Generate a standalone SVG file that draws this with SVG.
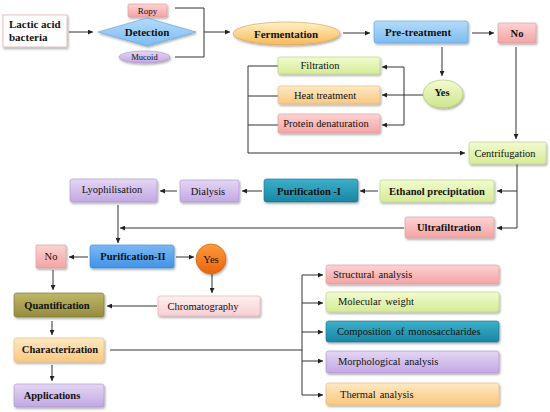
<svg xmlns="http://www.w3.org/2000/svg" width="550" height="412" viewBox="0 0 550 412">
<style>
text{font-family:"Liberation Serif","Times New Roman",serif;font-size:10.5px;fill:#111;text-anchor:middle}
.b{font-weight:bold}
.l{text-anchor:start}
.box{filter:url(#sh)}
.conn path{fill:none;stroke:#333;stroke-width:1}
.pink{fill:url(#gPink);stroke:#d79a9a;stroke-width:0.6}
.green{fill:url(#gGreen);stroke:#b9cf84;stroke-width:0.6}
.orange{fill:url(#gOrange);stroke:#e3b676;stroke-width:0.6}
.purple{fill:url(#gPurple);stroke:#a892c9;stroke-width:0.6}
.teal{fill:url(#gTeal);stroke:#17718a;stroke-width:0.6}
.blue{fill:url(#gBlue);stroke:#3d86d0;stroke-width:0.6}
.lblue{fill:url(#gLBlue);stroke:#5a9fd8;stroke-width:0.6}
.olive{fill:url(#gOlive);stroke:#7b7330;stroke-width:0.6}
.lpink{fill:url(#gLPink);stroke:#e0a7ae;stroke-width:0.6}
.ferm{fill:url(#gFerm);stroke:#d9a04a;stroke-width:0.6}
.oyes{fill:url(#gOYes);stroke:#c85a08;stroke-width:0.6}
</style>
<defs>
<filter id="sh" x="-10%" y="-20%" width="125%" height="150%">
<feDropShadow dx="1" dy="1.5" stdDeviation="0.9" flood-color="#000" flood-opacity="0.35"/>
</filter>
<marker id="ar" viewBox="0 0 6 6" refX="6" refY="3" markerWidth="5" markerHeight="5" markerUnits="userSpaceOnUse" orient="auto">
<path d="M0,0 L6,3 L0,6 z" fill="#222"/>
</marker>
<linearGradient id="gPink" x1="0" y1="0" x2="0" y2="1"><stop offset="0" stop-color="#fcd3d3"/><stop offset="1" stop-color="#f5a3a3"/></linearGradient>
<linearGradient id="gGreen" x1="0" y1="0" x2="0" y2="1"><stop offset="0" stop-color="#f1fbcf"/><stop offset="1" stop-color="#d6eb96"/></linearGradient>
<linearGradient id="gOrange" x1="0" y1="0" x2="0" y2="1"><stop offset="0" stop-color="#fee9c4"/><stop offset="1" stop-color="#f9c880"/></linearGradient>
<linearGradient id="gPurple" x1="0" y1="0" x2="0" y2="1"><stop offset="0" stop-color="#e4d6f4"/><stop offset="1" stop-color="#c2a8e3"/></linearGradient>
<linearGradient id="gTeal" x1="0" y1="0" x2="0" y2="1"><stop offset="0" stop-color="#3bb0cb"/><stop offset="1" stop-color="#1a86a2"/></linearGradient>
<linearGradient id="gBlue" x1="0" y1="0" x2="0" y2="1"><stop offset="0" stop-color="#7ab9f4"/><stop offset="1" stop-color="#3f93e8"/></linearGradient>
<linearGradient id="gLBlue" x1="0" y1="0" x2="0" y2="1"><stop offset="0" stop-color="#b4dbfa"/><stop offset="1" stop-color="#7ebcf2"/></linearGradient>
<linearGradient id="gOlive" x1="0" y1="0" x2="0" y2="1"><stop offset="0" stop-color="#c0b667"/><stop offset="1" stop-color="#958c3c"/></linearGradient>
<linearGradient id="gLPink" x1="0" y1="0" x2="0" y2="1"><stop offset="0" stop-color="#fff0f1"/><stop offset="1" stop-color="#f9cdd2"/></linearGradient>
<linearGradient id="gFerm" x1="0" y1="0" x2="0" y2="1"><stop offset="0" stop-color="#fff0c6"/><stop offset="1" stop-color="#f7b957"/></linearGradient>
<linearGradient id="gOYes" x1="0" y1="0" x2="0" y2="1"><stop offset="0" stop-color="#ff9a3a"/><stop offset="1" stop-color="#e9640c"/></linearGradient>
<linearGradient id="gYesG" x1="0" y1="0" x2="0" y2="1"><stop offset="0" stop-color="#f3fbd2"/><stop offset="1" stop-color="#cfe58a"/></linearGradient>
</defs>

<g class="conn">
<path d="M69,32 H93" marker-end="url(#ar)"/>
<path d="M175,8 H204 V57 H175"/>
<path d="M204,32 H230" marker-end="url(#ar)"/>
<path d="M343,33 H370" marker-end="url(#ar)"/>
<path d="M472,33 H494" marker-end="url(#ar)"/>
<path d="M442,47 V76" marker-end="url(#ar)"/>
<path d="M423,95 H382" marker-end="url(#ar)"/>
<path d="M404,67 V125"/>
<path d="M404,67 H382" marker-end="url(#ar)"/>
<path d="M404,125 H382" marker-end="url(#ar)"/>
<path d="M278,66 H248 V153 H465" marker-end="url(#ar)"/>
<path d="M278,96 H248"/>
<path d="M278,125 H248"/>
<path d="M516,47 V139" marker-end="url(#ar)"/>
<path d="M517,164 V228 H497" marker-end="url(#ar)"/>
<path d="M517,191 H497" marker-end="url(#ar)"/>
<path d="M378,191 H360" marker-end="url(#ar)"/>
<path d="M262,191 H242" marker-end="url(#ar)"/>
<path d="M177,191 H160" marker-end="url(#ar)"/>
<path d="M118,205 V243" marker-end="url(#ar)"/>
<path d="M404,228 H120" marker-end="url(#ar)"/>
<path d="M88,257 H69" marker-end="url(#ar)"/>
<path d="M176,257 H194" marker-end="url(#ar)"/>
<path d="M212,274 V293" marker-end="url(#ar)"/>
<path d="M53,270 V290" marker-end="url(#ar)"/>
<path d="M157,306 H107" marker-end="url(#ar)"/>
<path d="M52,321 V335" marker-end="url(#ar)"/>
<path d="M110,350 H302"/>
<path d="M302,275 V395"/>
<path d="M302,275 H323" marker-end="url(#ar)"/>
<path d="M302,303 H323" marker-end="url(#ar)"/>
<path d="M302,332 H323" marker-end="url(#ar)"/>
<path d="M302,361 H323" marker-end="url(#ar)"/>
<path d="M302,395 H323" marker-end="url(#ar)"/>
<path d="M52,365 V381" marker-end="url(#ar)"/>
</g>

<g id="lab"><rect class="box" x="3" y="15" width="64" height="32" fill="#fff" stroke="#e0b0b0" stroke-width="0.8"/>
<text class="b l" x="9" y="28" style="font-size:11px">Lactic acid</text>
<text class="b l" x="9" y="41" style="font-size:11px">bacteria</text></g>

<g id="ropy"><rect class="box pink" x="128" y="4" width="39" height="13" rx="1.5"/><text x="147.5" y="13.5" style="font-size:9px">Ropy</text></g>
<g id="detection"><polygon class="box lblue" points="98,32 147,18 196,32 147,46"/><text class="b" x="147" y="36" style="font-size:11px">Detection</text></g>
<g id="mucoid"><ellipse class="box purple" cx="144.5" cy="57" rx="25.5" ry="6"/><text x="144.5" y="60" style="font-size:8.5px">Mucoid</text></g>

<g id="fermentation"><ellipse class="box ferm" cx="286.5" cy="33.5" rx="53.5" ry="11.5"/><text class="b" x="286" y="37.5" style="font-size:11px">Fermentation</text></g>
<g id="pretreatment"><rect class="box lblue" x="374" y="21" width="94" height="22" rx="2.5"/><text class="b" x="418" y="36" style="font-size:11px">Pre-treatment</text></g>
<g id="no1"><rect class="box pink" x="498" y="23" width="38" height="20" rx="1"/><text class="b" x="517" y="37" style="font-size:10.5px">No</text></g>

<g id="filtration"><rect class="box green" x="278" y="57" width="102" height="17" rx="2"/><text x="320" y="69">Filtration</text></g>
<g id="heat"><rect class="box orange" x="278" y="86" width="102" height="18" rx="2"/><text x="325" y="98.5">Heat treatment</text></g>
<g id="protein"><rect class="box pink" x="278" y="114" width="102" height="19" rx="2"/><text x="326" y="127">Protein denaturation</text></g>
<g id="yes1"><ellipse class="box" cx="443" cy="94" rx="20" ry="14" fill="url(#gYesG)" stroke="#a8c060" stroke-width="0.6"/><text class="b" x="442" y="96">Yes</text></g>

<g id="centrifugation"><rect class="box green" x="469" y="142" width="77" height="22" rx="2"/><text x="505" y="157">Centrifugation</text></g>
<g id="ethanol"><rect class="box green" x="380" y="180" width="114" height="22" rx="2"/><text class="b" x="437" y="194.5">Ethanol precipitation</text></g>
<g id="pur1"><rect class="box teal" x="264" y="179" width="94" height="23" rx="2.5"/><text class="b" x="309" y="194.5">Purification -I</text></g>
<g id="dialysis"><rect class="box purple" x="180" y="180" width="59" height="22" rx="2"/><text x="208" y="194.5">Dialysis</text></g>
<g id="lyophilisation"><rect class="box purple" x="70" y="179" width="87" height="23" rx="2.5"/><text x="112" y="193">Lyophilisation</text></g>
<g id="ultrafiltration"><rect class="box pink" x="405" y="217" width="89" height="21" rx="2"/><text class="b" x="449" y="231">Ultrafiltration</text></g>

<g id="pur2"><rect class="box blue" x="90" y="245" width="84" height="23" rx="2.5"/><text class="b" x="133" y="260">Purification-II</text></g>
<g id="no2"><rect class="box pink" x="36" y="245" width="30" height="23" rx="1"/><text x="51" y="260">No</text></g>
<g id="yes2"><circle class="box oyes" cx="211" cy="259" r="15"/><text x="211" y="263">Yes</text></g>
<g id="chromatography"><rect class="box lpink" x="158" y="296" width="102" height="20" rx="2"/><text x="203" y="309.5">Chromatography</text></g>
<g id="quantification"><rect class="box olive" x="14" y="293" width="90" height="24" rx="2.5"/><text class="b" x="57" y="308.5">Quantification</text></g>
<g id="characterization"><rect class="box orange" x="14" y="338" width="90" height="24" rx="2.5"/><text class="b" x="60" y="353">Characterization</text></g>
<g id="applications"><rect class="box purple" x="14" y="384" width="90" height="23" rx="2.5"/><text class="b" x="52" y="398.5">Applications</text></g>

<g id="structural"><rect class="box pink" x="326" y="265" width="173" height="19" rx="2.5"/><text class="l" x="333" y="277.5" style="word-spacing:1.5px">Structural analysis</text></g>
<g id="molecular"><rect class="box green" x="326" y="292" width="173" height="20" rx="2.5"/><text class="l" x="338" y="305" style="word-spacing:1.5px">Molecular weight</text></g>
<g id="composition"><rect class="box teal" x="326" y="321" width="173" height="21" rx="2.5"/><text class="l" x="337" y="334.5" style="word-spacing:1.5px">Composition of monosaccharides</text></g>
<g id="morphological"><rect class="box purple" x="326" y="351" width="173" height="22" rx="2.5"/><text class="l" x="338" y="364.5" style="word-spacing:1.5px">Morphological analysis</text></g>
<g id="thermal"><rect class="box orange" x="326" y="383" width="173" height="22" rx="2.5"/><text class="l" x="340" y="397.5" style="word-spacing:1.5px">Thermal analysis</text></g>
</svg>
